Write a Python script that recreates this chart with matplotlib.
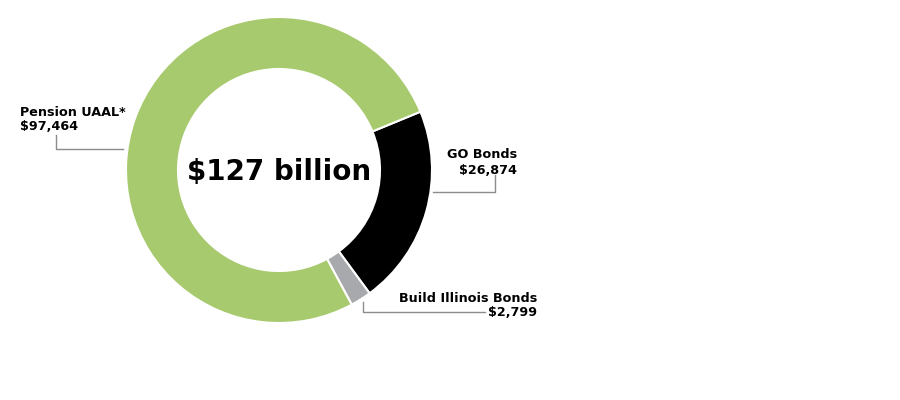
import matplotlib.pyplot as plt

# Debt composition (millions of dollars)
labels = ['GO Bonds', 'Build Illinois Bonds', 'Pension UAAL*']
values = [26874, 2799, 97464]
value_text = ['$26,874', '$2,799', '$97,464']
colors = ['#000000', '#a7a9ac', '#a8ca6e']
total_text = '$127 billion'

plt.rcParams['font.family'] = ['DejaVu Sans']

W, H = 900, 400
fig = plt.figure(figsize=(9, 4), dpi=100)
ax = fig.add_axes([0, 0, 1, 1])

cx, cy, r = 279, H - 170, 153
ax.pie(values, colors=colors, startangle=22.4, counterclock=False,
       center=(cx, cy), radius=r, frame=True,
       wedgeprops=dict(width=52, edgecolor='white', linewidth=1.5))
ax.set_xlim(0, W)
ax.set_ylim(0, H)
ax.set_aspect('equal')
ax.axis('off')

ax.text(cx, cy - 2, total_text, ha='center', va='center',
        fontsize=20, fontweight='bold', color='black')

line_kw = dict(color='#8c8c8c', linewidth=1)
txt_kw = dict(fontsize=9.2, fontweight='bold', color='black', va='center')

# Pension label (left)
ax.plot([56, 56, 123], [H - 135, H - 149, H - 149], **line_kw)
ax.text(20, H - 112, labels[2], ha='left', **txt_kw)
ax.text(20, H - 127, value_text[2], ha='left', **txt_kw)

# GO Bonds label (right)
ax.plot([433, 495, 495], [H - 192, H - 192, H - 175], **line_kw)
ax.text(517, H - 155, labels[0], ha='right', **txt_kw)
ax.text(517, H - 170, value_text[0], ha='right', **txt_kw)

# Build Illinois label (bottom right)
ax.plot([363, 363, 485], [H - 302, H - 312, H - 312], **line_kw)
ax.text(537, H - 298, labels[1], ha='right', **txt_kw)
ax.text(537, H - 313, value_text[1], ha='right', **txt_kw)

fig.savefig('out.png', dpi=100, facecolor='white')
